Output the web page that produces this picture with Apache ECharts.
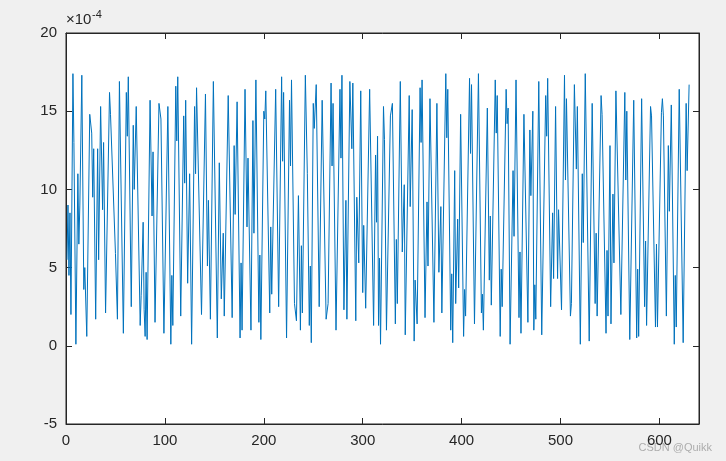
<!DOCTYPE html>
<html>
<head>
<meta charset="utf-8">
<script src="https://cdn.jsdelivr.net/npm/echarts@6/dist/echarts.min.js"></script>
<style>
html,body{margin:0;padding:0;background:#f0f0f0;}
#chart{width:726px;height:461px;}
</style>
</head>
<body>
<div id="chart"></div>
<script>
// Sample index (vertices of the trace)
const sampleIndex = [
1,2,3,4,5,7,8,10,12,13,14,16,18,19,21,24,26,27,28,30,32,33,35,37,38,40,44,45,50,52,
54,58,61,62,63,66,68,69,71,75,76,78,79,80,81,82,85,87,88,90,94,96,99,103,106,
107,108,111,112,113,116,119,120,121,123,125,127,130,131,132,137,141,143,144,146,149,153,155,157,159,160,
164,168,170,171,173,176,177,178,181,183,184,187,189,190,192,195,196,197,200,201,202,206,207,208,212,
215,218,219,220,223,226,227,228,231,233,235,237,238,239,242,244,246,247,248,250,251,253,256,259,263,265,
268,269,270,273,277,278,279,281,283,284,287,289,290,293,294,296,298,300,301,303,307,311,313,314,315,316,317,318,321,
322,324,328,330,333,334,335,338,340,342,343,347,348,350,352,353,355,358,359,360,363,365,366,368,372,
375,377,379,380,384,385,386,389,390,391,393,394,396,397,399,402,403,404,408,409,410,413,417,420,421,422,426,
428,429,430,434,435,436,439,440,441,445,446,447,449,452,453,455,458,459,460,463,467,469,470,472,473,474,475,478,
481,485,486,487,490,492,493,495,497,498,501,504,505,506,510,511,514,516,517,520,522,523,525,529,532,
535,536,537,541,542,543,546,547,548,550,551,553,554,556,561,565,566,567,570,574,577,578,579,582,585,586,587,
591,592,596,597,598,602,603,604,607,609,610,612,615,616,617,620,624,627,628,630
];
// Amplitude in units of 1e-4
const amplitudeE4 = [
5.5,9.0,4.5,8.5,2.0,17.4,13.0,0.1,11.0,6.5,9.0,17.3,3.6,5.0,0.6,14.8,13.6,9.5,12.6,1.7,12.6,5.5,15.3,8.7,13.0,2.1,16.2,14.8,5.9,1.7,
16.9,0.8,16.2,13.4,17.2,2.5,14.1,10.0,15.3,1.3,3.2,7.9,2.3,0.6,4.7,0.4,15.7,8.3,12.4,1.5,15.5,14.5,0.8,15.3,0.1,
4.5,1.3,16.6,13.1,17.2,1.9,14.7,10.4,15.7,4.0,11.0,0.1,15.3,11.0,16.5,2.0,16.1,5.1,9.3,1.7,16.9,0.5,11.7,3.0,7.2,1.9,
16.0,1.8,12.8,8.4,15.6,0.5,5.3,1.0,16.4,7.6,12.0,1.0,14.4,7.2,17.0,1.5,5.8,0.4,15.0,14.5,16.3,2.1,7.6,3.3,16.4,
2.5,17.2,11.8,16.2,0.5,15.7,11.5,17.0,2.7,1.6,9.6,1.0,6.4,2.1,17.3,11.0,1.3,5.1,0.2,15.5,13.9,16.7,2.5,15.7,1.7,2.7,
16.8,11.5,15.5,1.0,16.4,12.0,17.3,2.3,9.3,1.7,16.9,12.6,16.8,1.6,9.5,5.3,16.3,3.4,7.7,2.4,16.4,1.3,12.2,7.9,13.4,1.3,5.6,0.1,15.3,
13.2,1.0,14.7,15.5,1.4,6.8,2.7,16.9,6.0,10.3,0.7,16.0,8.9,15.1,0.3,4.2,1.4,16.5,13.0,17.0,1.8,9.2,5.1,15.8,1.5,
15.5,4.7,8.9,2.1,17.4,13.3,16.4,1.0,4.6,0.2,11.2,2.7,8.1,3.7,14.8,0.6,3.6,1.9,17.1,12.3,16.7,1.4,17.4,2.1,3.3,1.0,15.2,
4.2,8.3,2.6,17.0,13.6,16.0,0.6,4.9,2.5,16.4,14.2,15.2,0.1,11.2,7.0,17.0,1.8,6.0,0.8,14.8,1.5,13.8,9.6,15.0,1.0,3.9,1.7,16.9,
0.7,16.0,13.4,17.1,2.5,8.5,4.3,15.3,4.3,8.7,2.3,17.3,10.6,15.8,1.9,2.7,16.7,11.3,15.3,0.1,11.0,6.6,17.4,0.3,15.5,
2.7,7.2,1.9,16.0,14.8,14.7,0.8,6.1,1.9,12.8,1.4,9.7,5.3,16.3,2.0,16.2,10.6,15.0,0.4,15.7,0.5,4.9,0.6,15.8,2.5,6.7,1.3,
15.3,14.7,1.2,6.5,1.2,14.9,15.8,14.7,1.9,12.8,8.6,15.4,0.1,4.5,1.2,16.4,0.2,15.5,11.2,16.7
];
const xRange = [0, 640];
const xStep = 100;
const yRange = [-5, 20];
const yStep = 5;
const exponentBase = '\u00d710';
const exponentPower = '-4';
const watermark = 'CSDN @Quikk';

const seriesData = sampleIndex.map((x, i) => [x, amplitudeE4[i]]);

const axisColor = '#262626';
const font = "'Liberation Sans', Arial, sans-serif";

const chart = echarts.init(document.getElementById('chart'), null, {renderer: 'canvas'});
const baseX = {
  type: 'value', min: xRange[0], max: xRange[1], interval: xStep,
  axisLine: {show: true, onZero: false, lineStyle: {color: axisColor, width: 1}},
  axisTick: {show: true, inside: true, length: 6, lineStyle: {color: axisColor}},
  splitLine: {show: false}
};
const baseY = {
  type: 'value', min: yRange[0], max: yRange[1], interval: yStep,
  axisLine: {show: true, onZero: false, lineStyle: {color: axisColor, width: 1}},
  axisTick: {show: true, inside: true, length: 6, lineStyle: {color: axisColor}},
  splitLine: {show: false}
};
chart.setOption({
  animation: false,
  backgroundColor: '#f0f0f0',
  grid: {left: 66, right: 27, top: 33, bottom: 37, show: true, backgroundColor: '#ffffff', borderColor: axisColor, borderWidth: 1},
  xAxis: [
    Object.assign({}, baseX, {position: 'bottom',
      axisLabel: {show: true, color: axisColor, fontSize: 15, fontFamily: font, margin: 9, showMaxLabel: false}}),
    Object.assign({}, baseX, {position: 'top', axisLabel: {show: false}})
  ],
  yAxis: [
    Object.assign({}, baseY, {position: 'left',
      axisLabel: {show: true, color: axisColor, fontSize: 15, fontFamily: font, margin: 9}}),
    Object.assign({}, baseY, {position: 'right', axisLabel: {show: false}})
  ],
  graphic: [
    {type: 'text', left: 66, top: 12, style: {text: exponentBase, fill: axisColor, font: "15px " + font}},
    {type: 'text', left: 92, top: 9, style: {text: exponentPower, fill: axisColor, font: "11px " + font}},
    {type: 'text', right: 14, bottom: 8, style: {text: watermark, fill: 'rgba(150,150,150,0.75)', font: "11px " + font}}
  ],
  series: [{
    type: 'line', xAxisIndex: 0, yAxisIndex: 0,
    data: seriesData, showSymbol: false, symbol: 'none',
    lineStyle: {color: '#0072BD', width: 1},
    itemStyle: {color: '#0072BD'},
    clip: true
  }]
});
</script>
</body>
</html>
